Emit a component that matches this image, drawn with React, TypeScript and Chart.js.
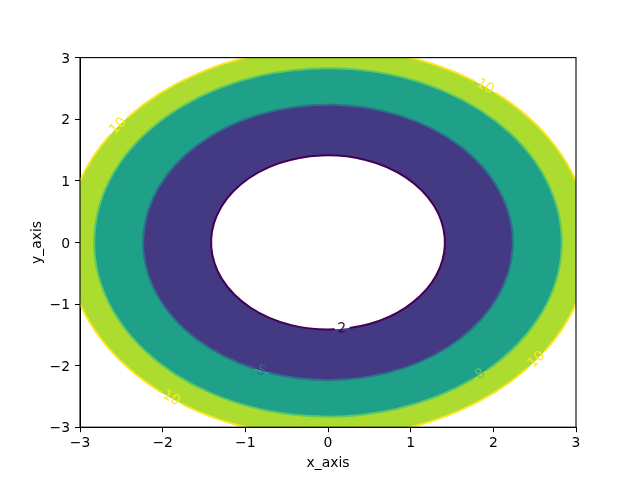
import React, { useEffect, useRef } from "react";
import { Chart, registerables } from "chart.js";
Chart.register(...registerables);

// Contour levels of z = x^2 + y^2
const levels = [2, 5, 8, 10];
// Filled band colours: [2,5], [5,8], [8,10]
const fillColors = ["#443a83", "#1fa088", "#addc30"];
// Contour line colours for each level
const lineColors = ["#440154", "#2d708e", "#5ec962", "#fde725"];
// Inline contour labels (level, approximate data position)
const labelLevels = [10, 10, 10, 10, 2, 5, 8];
const labelX = [-2.54, 1.91, -1.89, 2.52, 0.17, -0.8, 1.83];
const labelY = [1.89, 2.54, -2.52, -1.9, -1.39, -2.07, -2.13];
const xRange = [-3, 3];
const yRange = [-3, 3];

const FONT = "DejaVu Sans";
const FS = 13.9;
const fmt = (v: number) => (v < 0 ? "\u2212" + Math.abs(v) : String(v));

const contourPlugin = {
  id: "contour",
  beforeDatasetsDraw(chart: any) {
    const { ctx, chartArea } = chart;
    const xs = chart.scales.x;
    const ys = chart.scales.y;
    const cx = xs.getPixelForValue(0);
    const cy = ys.getPixelForValue(0);
    const rx = (L: number) => xs.getPixelForValue(Math.sqrt(L)) - cx;
    const ry = (L: number) => cy - ys.getPixelForValue(Math.sqrt(L));
    ctx.save();
    ctx.beginPath();
    ctx.rect(chartArea.left, chartArea.top, chartArea.right - chartArea.left, chartArea.bottom - chartArea.top);
    ctx.clip();
    // filled bands
    for (let i = 0; i < levels.length - 1; i++) {
      const lo = levels[i];
      const hi = levels[i + 1];
      ctx.beginPath();
      ctx.ellipse(cx, cy, rx(hi), ry(hi), 0, 0, Math.PI * 2);
      ctx.moveTo(cx + rx(lo), cy);
      ctx.ellipse(cx, cy, rx(lo), ry(lo), 0, 0, Math.PI * 2);
      ctx.fillStyle = fillColors[i];
      ctx.fill("evenodd");
    }
    // contour lines with label gaps
    ctx.font = `${FS}px "${FONT}"`;
    for (let li = 0; li < levels.length; li++) {
      const L = levels[li];
      const a = rx(L);
      const b = ry(L);
      const gaps: [number, number][] = [];
      const labs: { t: number; text: string }[] = [];
      for (let k = 0; k < labelLevels.length; k++) {
        if (labelLevels[k] !== L) continue;
        let t = -Math.atan2(labelY[k], labelX[k]);
        if (t < 0) t += Math.PI * 2;
        const text = String(L);
        const w = ctx.measureText(text).width;
        const speed = Math.sqrt((a * Math.sin(t)) ** 2 + (b * Math.cos(t)) ** 2);
        const dt = (w / 2 + 3) / speed;
        gaps.push([t - dt, t + dt]);
        labs.push({ t, text });
      }
      ctx.strokeStyle = lineColors[li];
      ctx.lineWidth = 2;
      if (gaps.length === 0) {
        ctx.beginPath();
        ctx.ellipse(cx, cy, a, b, 0, 0, Math.PI * 2);
        ctx.stroke();
      } else {
        gaps.sort((p, q) => p[0] - q[0]);
        for (let g = 0; g < gaps.length; g++) {
          const start = gaps[g][1];
          const end = g + 1 < gaps.length ? gaps[g + 1][0] : gaps[0][0] + Math.PI * 2;
          ctx.beginPath();
          ctx.ellipse(cx, cy, a, b, 0, start, end);
          ctx.stroke();
        }
      }
      // labels
      for (const lab of labs) {
        const px = cx + a * Math.cos(lab.t);
        const py = cy + b * Math.sin(lab.t);
        let ang = Math.atan2(b * Math.cos(lab.t), -a * Math.sin(lab.t));
        if (ang > Math.PI / 2) ang -= Math.PI;
        if (ang <= -Math.PI / 2) ang += Math.PI;
        ctx.save();
        ctx.translate(px, py);
        ctx.rotate(ang);
        ctx.fillStyle = lineColors[li];
        ctx.textAlign = "center";
        ctx.textBaseline = "middle";
        ctx.fillText(lab.text, 0, 0);
        ctx.restore();
      }
    }
    ctx.restore();
  },
  afterDraw(chart: any) {
    const { ctx, chartArea } = chart;
    ctx.save();
    ctx.strokeStyle = "#000";
    ctx.lineWidth = 1.1;
    ctx.strokeRect(chartArea.left, chartArea.top, chartArea.right - chartArea.left, chartArea.bottom - chartArea.top);
    ctx.restore();
  },
};

export default function App() {
  const ref = useRef<HTMLCanvasElement>(null);
  useEffect(() => {
    if (!ref.current) return;
    const font = { family: FONT, size: FS };
    const chart = new Chart(ref.current, {
      type: "scatter",
      data: { datasets: [{ data: [] }] },
      options: {
        animation: false,
        responsive: false,
        layout: { padding: { left: 0, top: 57.6, right: 64, bottom: 0 } },
        plugins: { legend: { display: false }, tooltip: { enabled: false } },
        scales: {
          x: {
            type: "linear",
            min: xRange[0],
            max: xRange[1],
            afterFit: (s: any) => {
              s.height = 52.8;
            },
            ticks: { stepSize: 1, color: "#000", font, padding: 3, callback: (v: any) => fmt(Number(v)) },
            grid: { display: true, drawOnChartArea: false, drawTicks: true, tickLength: 5, color: "#000" },
            border: { display: true, color: "#000" },
            title: { display: true, text: "x_axis", color: "#000", font, padding: { top: 0, bottom: 8.7 } },
          },
          y: {
            type: "linear",
            min: yRange[0],
            max: yRange[1],
            afterFit: (s: any) => {
              s.width = 80;
            },
            ticks: { stepSize: 1, color: "#000", font, padding: 5, labelOffset: 1.5, callback: (v: any) => fmt(Number(v)) },
            grid: { display: true, drawOnChartArea: false, drawTicks: true, tickLength: 5, color: "#000" },
            border: { display: true, color: "#000" },
            title: { display: true, text: "y_axis", color: "#000", font, padding: { top: 28.7, bottom: 0 } },
          },
        },
      } as any,
      plugins: [contourPlugin],
    });
    return () => chart.destroy();
  }, []);
  return (
    <div style={{ position: "absolute", left: 0, top: 0, width: 640, height: 480, background: "#fff" }}>
      <canvas ref={ref} width={640} height={480} />
    </div>
  );
}
